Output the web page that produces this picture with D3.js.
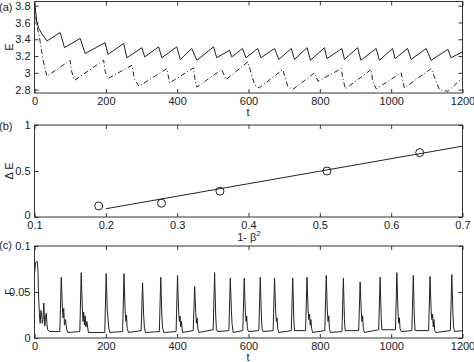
<!DOCTYPE html>
<html lang="en">
<head>
<meta charset="UTF-8">
<title>E, dE and Gamma panels</title>
<style>
  body { margin: 0; background: #fff; }
  svg text { font-family: "Liberation Sans", Arial, sans-serif; font-size: 11px; fill: #222; }
  .frame { fill: none; stroke: #333; stroke-width: 1; }
  .line { fill: none; stroke: #222; stroke-width: 1; }
</style>
</head>
<body>
<svg id="chart" width="474" height="362"></svg>
<script src="https://d3js.org/d3.v7.min.js"></script>
<script>
// panel (a): E(t), two runs (solid and dash-dot), [t, E]
const eSolid = [
  [0,3.84],[2,3.78],[6,3.62],[12,3.53],[20,3.47],[35,3.38],[72,3.48],[84,3.30],
  [128,3.41],[142,3.23],[198,3.36],[206,3.22],[250,3.35],[259,3.18],[301,3.30],[309,3.19],
  [348,3.31],[357,3.18],[399,3.31],[409,3.16],[441,3.29],[455,3.15],[502,3.31],[511,3.18],
  [547,3.27],[553,3.19],[583,3.29],[593,3.18],[626,3.29],[635,3.18],[673,3.29],[685,3.16],
  [720,3.29],[729,3.16],[764,3.30],[774,3.15],[813,3.30],[820,3.17],[862,3.29],[869,3.16],
  [906,3.30],[915,3.15],[958,3.29],[967,3.15],[1004,3.29],[1011,3.17],[1046,3.29],[1056,3.16],
  [1098,3.29],[1112,3.15],[1159,3.28],[1168,3.18],[1200,3.25]
];
const eDashDot = [
  [0,3.80],[6,3.58],[14,3.42],[24,3.15],[35,2.96],[100,3.15],[104,3.02],[112,2.91],
  [194,3.15],[198,3.02],[205,2.93],[273,3.09],[280,2.93],[293,2.84],[371,3.05],[379,2.88],
  [446,3.06],[450,2.92],[455,2.83],[525,3.04],[537,2.92],[598,3.13],[617,2.86],[630,2.82],
  [696,3.04],[710,2.84],[724,2.80],[785,3.00],[795,2.90],[860,3.05],[866,2.9],[872,2.81],
  [944,3.04],[948,2.9],[958,2.81],[1028,3.00],[1037,2.82],[1112,3.05],[1135,2.80],
  [1159,2.78],[1200,2.94]
];

// panel (b): measured points [1-beta^2, dE] and fitted line ends
const dePoints = [[0.19,0.12],[0.278,0.15],[0.36,0.28],[0.51,0.50],[0.64,0.70]];
const deFit = [[0.2,0.09],[0.7,0.77]];

// panel (c): Gamma(t), [t, Gamma]
const gamma = [
  [0,0.07],[3,0.082],[8,0.083],[10,0.07],[11,0.05],[14,0.024],[16,0.016],[18,0.03],[20,0.026],
  [22,0.016],[24,0.02],[26,0.038],[28,0.02],[29,0.013],[31,0.022],[33,0.027],[35,0.015],[37,0.009],[42,0.007],
  [71,0.007],[75,0.066],[78,0.035],[80,0.022],[82,0.032],[84,0.014],[87,0.02],[90,0.01],[93,0.006],
  [127,0.007],[131,0.071],[134,0.035],[136,0.018],[138,0.028],[140,0.014],[142,0.024],[144,0.012],[147,0.018],[151,0.006],
  [197,0.006],[201,0.07],[204,0.03],[206,0.022],[208,0.012],[211,0.006],
  [247,0.007],[251,0.07],[254,0.03],[256,0.018],[258,0.025],[260,0.01],[264,0.006],
  [299,0.008],[303,0.06],[306,0.025],[308,0.012],[311,0.006],
  [350,0.007],[354,0.066],[357,0.025],[359,0.012],[362,0.006],
  [397,0.007],[401,0.068],[404,0.03],[406,0.018],[408,0.024],[410,0.012],[412,0.018],[415,0.006],
  [445,0.008],[449,0.056],[452,0.028],[454,0.016],[456,0.022],[458,0.01],[461,0.006],
  [501,0.009],[505,0.071],[508,0.025],[510,0.01],[513,0.007],
  [545,0.008],[549,0.065],[552,0.03],[554,0.015],[557,0.006],
  [584,0.008],[588,0.065],[591,0.03],[593,0.018],[595,0.024],[597,0.01],[600,0.007],
  [629,0.008],[633,0.066],[636,0.025],[638,0.01],[641,0.007],
  [669,0.008],[673,0.065],[676,0.03],[678,0.018],[680,0.022],[682,0.01],[685,0.006],
  [720,0.008],[724,0.065],[727,0.02],[729,0.008],
  [760,0.008],[764,0.066],[767,0.03],[769,0.02],[771,0.026],[773,0.014],[775,0.02],[777,0.01],[780,0.006],
  [814,0.008],[818,0.068],[821,0.03],[823,0.018],[825,0.024],[827,0.01],[830,0.006],
  [862,0.007],[866,0.065],[869,0.02],[871,0.008],
  [909,0.008],[913,0.061],[916,0.03],[918,0.018],[920,0.024],[922,0.01],[925,0.006],
  [965,0.009],[969,0.066],[972,0.022],[974,0.009],
  [1012,0.009],[1016,0.071],[1019,0.03],[1021,0.016],[1023,0.022],[1025,0.01],[1028,0.007],
  [1058,0.008],[1062,0.068],[1065,0.022],[1067,0.008],
  [1105,0.008],[1109,0.067],[1112,0.03],[1114,0.02],[1116,0.026],[1118,0.012],[1120,0.02],[1122,0.008],[1125,0.006],
  [1166,0.008],[1170,0.069],[1173,0.028],[1175,0.012],[1178,0.007],[1200,0.008]
];

// ticks
const tTicks = [0,200,400,600,800,1000,1200];
const eTicks = [2.8,3,3.2,3.4,3.6,3.8];
const bxTicks = [0.1,0.2,0.3,0.4,0.5,0.6,0.7];
const deTicks = [0,0.5,1];
const gTicks = [0,0.05,0.1];

const svg = d3.select("#chart");
const left = 34.5, right = 462.5;

// draws the box, inward ticks on all four sides, labels on left/bottom
function panel(x, y, xt, yt) {
  const [y0, y1] = y.range();
  const g = svg.append("g");
  g.append("g").attr("transform", `translate(0,${y0})`)
    .call(d3.axisBottom(x).tickValues(xt).tickSizeInner(-4).tickSizeOuter(0).tickPadding(4).tickFormat(d3.format("~g")));
  g.append("g").attr("transform", `translate(0,${y1})`)
    .call(d3.axisTop(x).tickValues(xt).tickSizeInner(-4).tickSizeOuter(0).tickFormat(""));
  g.append("g").attr("class", "yl").attr("transform", `translate(${left},0)`)
    .call(d3.axisLeft(y).tickValues(yt).tickSizeInner(-4).tickSizeOuter(0).tickPadding(4).tickFormat(d3.format("~g")));
  g.append("g").attr("transform", `translate(${right},0)`)
    .call(d3.axisRight(y).tickValues(yt).tickSizeInner(-4).tickSizeOuter(0).tickFormat(""));
  g.selectAll(".domain").remove();
  g.selectAll(".tick line").attr("stroke", "#333");
  g.selectAll(".tick text").attr("fill", "#222").style("font-size", "11px")
    .style("font-family", "'Liberation Sans', Arial, sans-serif");
  g.append("rect").attr("class", "frame")
    .attr("x", left).attr("y", y1).attr("width", right - left).attr("height", y0 - y1);
  return g;
}

// (a)
const xT = d3.scaleLinear().domain([0, 1200]).range([left, right]);
const yE = d3.scaleLinear().domain([2.76, 3.85]).range([93, 1.5]);
panel(xT, yE, tTicks, eTicks);
const lineE = d3.line().x(d => xT(d[0])).y(d => yE(d[1]));
svg.append("path").datum(eSolid).attr("class", "line").attr("d", lineE);
svg.append("path").datum(eDashDot).attr("class", "line")
  .attr("stroke-dasharray", "5,2.5,1,2.5").attr("d", lineE);

// (b)
const xB = d3.scaleLinear().domain([0.1, 0.7]).range([left, right]);
const yB = d3.scaleLinear().domain([0, 1]).range([217, 125]);
const pb = panel(xB, yB, bxTicks, deTicks);
// the "0" on the left sits a little higher, clear of "0.1"
pb.selectAll(".yl .tick text").filter(d => d === 0).attr("dy", "0.1em");
svg.append("path").datum(deFit).attr("class", "line")
  .attr("d", d3.line().x(d => xB(d[0])).y(d => yB(d[1])));
svg.selectAll("circle.pt").data(dePoints).join("circle").attr("class", "pt")
  .attr("cx", d => xB(d[0])).attr("cy", d => yB(d[1])).attr("r", 4)
  .attr("fill", "none").attr("stroke", "#222");

// (c)
const yG = d3.scaleLinear().domain([0, 0.1]).range([338, 246]);
panel(xT, yG, tTicks, gTicks);
svg.append("path").datum(gamma).attr("class", "line")
  .attr("d", d3.line().x(d => xT(d[0])).y(d => yG(d[1])));

// labels
svg.append("text").attr("x", -1).attr("y", 11).text("(a)");
svg.append("text").attr("x", -1).attr("y", 130).text("(b)");
svg.append("text").attr("x", -1).attr("y", 249).text("(c)");
svg.append("text").attr("x", 248).attr("y", 116).attr("text-anchor", "middle").text("t");
svg.append("text").attr("x", 248).attr("y", 361).attr("text-anchor", "middle").text("t");
const bl = svg.append("text").attr("x", 249).attr("y", 241).attr("text-anchor", "middle");
bl.append("tspan").text("1- β");
bl.append("tspan").attr("dy", -5).style("font-size", "8px").text("2");
svg.append("text").attr("transform", "translate(13,47) rotate(-90)").attr("text-anchor", "middle").text("E");
svg.append("text").attr("transform", "translate(13,171) rotate(-90)").attr("text-anchor", "middle").text("Δ E");
svg.append("text").attr("transform", "translate(13,292) rotate(-90)").attr("text-anchor", "middle").text("Γ");
</script>
</body>
</html>
